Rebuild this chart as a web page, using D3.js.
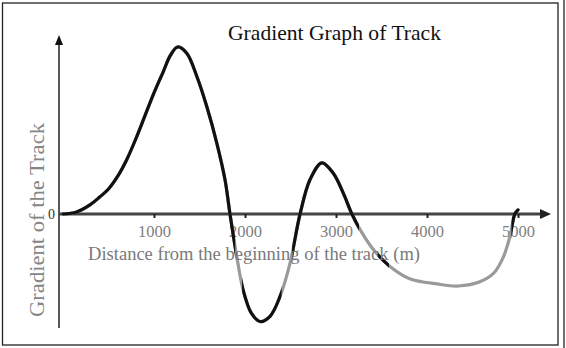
<!DOCTYPE html>
<html>
<head>
<meta charset="utf-8">
<script src="https://cdn.jsdelivr.net/npm/d3@7"></script>
<style>
  html, body { margin: 0; padding: 0; background: #fff; }
  svg { display: block; }
</style>
</head>
<body>
<svg id="chart" width="566" height="348"></svg>
<script>
// distance along the track (m) and gradient (arbitrary units)
const distance = [0, 150, 300, 400, 500, 600, 700, 800, 900, 1000, 1100, 1180, 1260, 1360, 1470, 1580, 1690, 1780, 1835,
  1910, 1980, 2070, 2165, 2275, 2385, 2495, 2605, 2715, 2845, 2970, 3080, 3175, 3265, 3410, 3590,
  3810, 4110, 4345, 4580, 4730, 4840, 4910, 4965, 5000];
const gradient = [0, 0.1, 0.45, 0.8, 1.2, 1.8, 2.6, 3.6, 4.7, 5.8, 6.8, 7.6, 8.0, 7.7, 6.6, 5.15, 3.4, 1.65, 0,
  -2.05, -3.65, -4.75, -5.15, -4.9, -3.95, -2.35, 0, 1.65, 2.45, 1.95, 1.0, 0, -0.75, -1.7, -2.5,
  -3.1, -3.35, -3.45, -3.25, -2.85, -2.05, -1.1, 0, 0.2];
const xTicks = [1000, 2000, 3000, 4000, 5000];
// parts of the printed curve that came out dark (the rest is grey)
const darkSpans = [[0, 1870], [1990, 2380], [2540, 3230], [3480, 3560], [4950, 5000]];

const svg = d3.select('#chart');

const x = d3.scaleLinear().domain([0, 5000]).range([63, 518]);
const y = d3.scaleLinear().domain([0, 8]).range([214, 47]);

const serif = '"Liberation Serif", "Times New Roman", serif';

// frame
svg.append('rect')
  .attr('x', 2.5).attr('y', 3)
  .attr('width', 555.5).attr('height', 342)
  .attr('fill', 'none')
  .attr('stroke', '#222')
  .attr('stroke-width', 1.3);
svg.append('line')
  .attr('x1', 564).attr('x2', 564)
  .attr('y1', 0).attr('y2', 348)
  .attr('stroke', '#222')
  .attr('stroke-width', 1.3);

// y axis with arrow
const axisX = x(0) - 4;
svg.append('line')
  .attr('x1', axisX).attr('x2', axisX)
  .attr('y1', 328).attr('y2', 44)
  .attr('stroke', '#111')
  .attr('stroke-width', 1.4);
svg.append('path')
  .attr('d', `M${axisX},35 L${axisX - 4},45 L${axisX + 4},45 Z`)
  .attr('fill', '#111');

// x axis with arrow
svg.append('line')
  .attr('x1', axisX).attr('x2', 542)
  .attr('y1', y(0)).attr('y2', y(0))
  .attr('stroke', '#444')
  .attr('stroke-width', 3);
svg.append('path')
  .attr('d', `M551,${y(0)} L540,${y(0) - 5} L540,${y(0) + 5} Z`)
  .attr('fill', '#222');

const xAxis = svg.append('g')
  .attr('transform', `translate(0,${y(0)})`)
  .call(d3.axisBottom(x).tickValues(xTicks).tickSize(4).tickFormat(d3.format('d')));
xAxis.select('.domain').remove();
xAxis.selectAll('.tick line').attr('stroke', '#222').attr('stroke-width', 2);
xAxis.selectAll('.tick text')
  .attr('y', 22.5)
  .attr('dy', 0)
  .attr('fill', '#808080')
  .attr('font-family', serif)
  .attr('font-size', '16.5px');

svg.append('text')
  .attr('x', axisX - 4)
  .attr('y', y(0) + 4.5)
  .attr('text-anchor', 'end')
  .attr('font-family', serif)
  .attr('font-size', '14px')
  .attr('fill', '#333')
  .text('0');

// the curve: grey underneath, dark parts clipped on top
const points = distance.map((d, i) => [d, gradient[i]]);
const line = d3.line()
  .x(d => x(d[0]))
  .y(d => y(d[1]))
  .curve(d3.curveCatmullRom.alpha(0.5));

svg.append('clipPath')
  .attr('id', 'dark-clip')
  .selectAll('rect')
  .data(darkSpans)
  .enter()
  .append('rect')
  .attr('x', d => x(d[0]) - 2)
  .attr('width', d => x(d[1]) - x(d[0]) + 4)
  .attr('y', 0)
  .attr('height', 348);

svg.append('path')
  .datum(points)
  .attr('d', line)
  .attr('fill', 'none')
  .attr('stroke', '#9a9a9a')
  .attr('stroke-width', 3.2)
  .attr('stroke-linecap', 'round');

svg.append('path')
  .datum(points)
  .attr('d', line)
  .attr('fill', 'none')
  .attr('stroke', '#111')
  .attr('stroke-width', 3.2)
  .attr('stroke-linecap', 'round')
  .attr('clip-path', 'url(#dark-clip)');

// titles
svg.append('text')
  .attr('x', 334.5)
  .attr('y', 39.5)
  .attr('text-anchor', 'middle')
  .attr('font-family', serif)
  .attr('font-size', '21px')
  .attr('fill', '#111')
  .attr('textLength', 213)
  .attr('lengthAdjust', 'spacingAndGlyphs')
  .text('Gradient Graph of Track');

svg.append('text')
  .attr('x', 88)
  .attr('y', 260)
  .attr('font-family', serif)
  .attr('font-size', '18px')
  .attr('fill', '#7a7a7a')
  .attr('textLength', 332)
  .attr('lengthAdjust', 'spacingAndGlyphs')
  .text('Distance from the beginning of the track (m)');

svg.append('text')
  .attr('transform', 'translate(44,220) rotate(-90)')
  .attr('text-anchor', 'middle')
  .attr('font-family', serif)
  .attr('font-size', '20px')
  .attr('fill', '#858585')
  .attr('textLength', 194)
  .attr('lengthAdjust', 'spacingAndGlyphs')
  .text('Gradient of the Track');
</script>
</body>
</html>
